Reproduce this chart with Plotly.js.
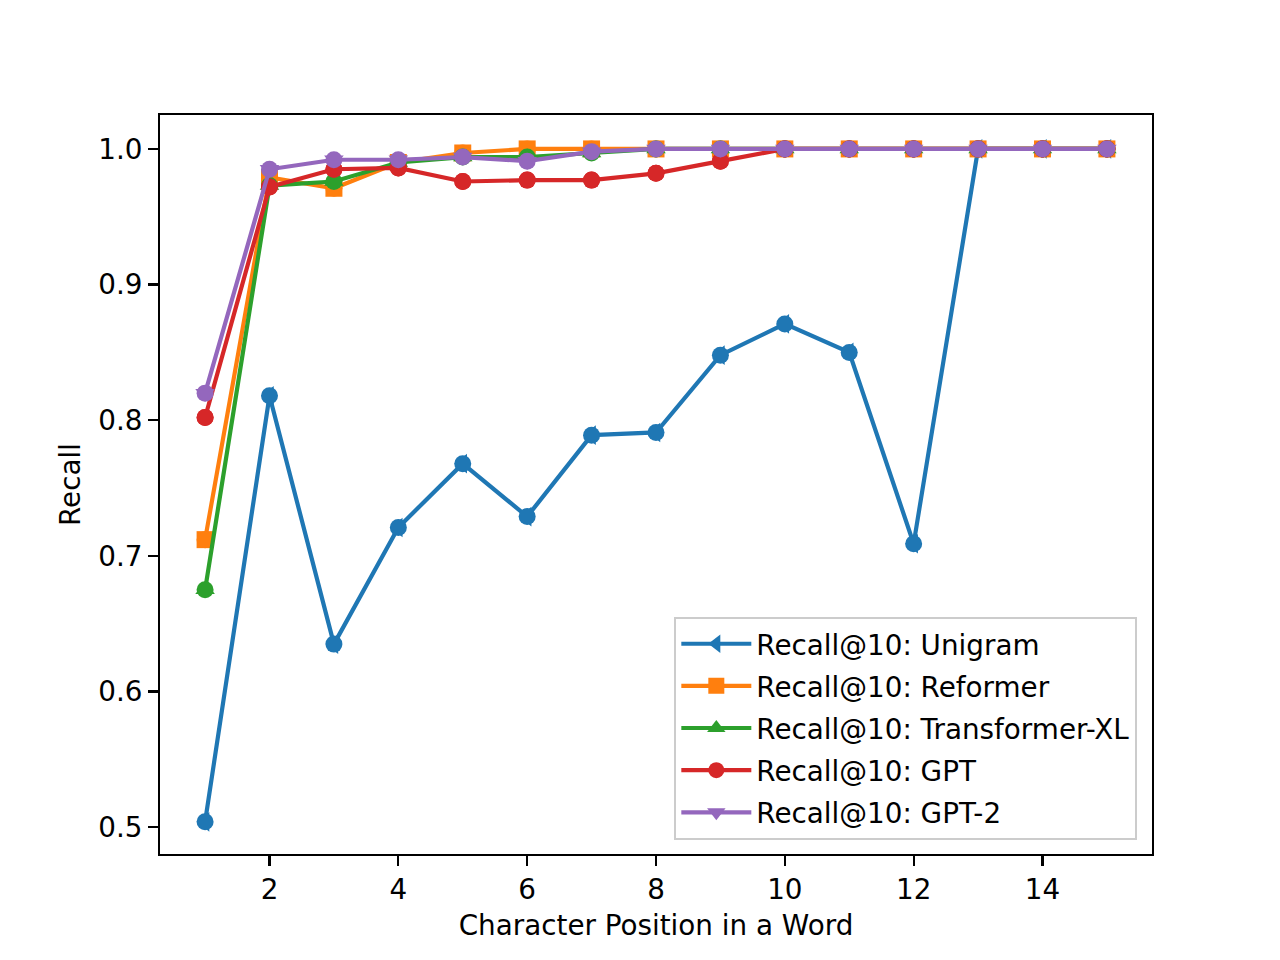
<!DOCTYPE html>
<html>
<head>
<meta charset="utf-8">
<script src="https://cdn.plot.ly/plotly-3.0.1.min.js"></script>
<style>html,body{margin:0;padding:0;background:#fff;}#chart{width:1280px;height:960px;}</style>
</head>
<body>
<div id="chart"></div>
<script>
const positions = [1,2,3,4,5,6,7,8,9,10,11,12,13,14,15];
const unigram = [0.504,0.818,0.635,0.721,0.768,0.729,0.789,0.791,0.848,0.871,0.850,0.709,1.0,1.0,1.0];
const reformer = [0.712,0.979,0.971,0.990,0.997,1.0,1.0,1.0,1.0,1.0,1.0,1.0,1.0,1.0,1.0];
const transformerXL = [0.675,0.973,0.976,0.990,0.994,0.994,0.997,1.0,1.0,1.0,1.0,1.0,1.0,1.0,1.0];
const gpt = [0.802,0.972,0.985,0.986,0.976,0.977,0.977,0.982,0.991,1.0,1.0,1.0,1.0,1.0,1.0];
const gpt2 = [0.820,0.985,0.992,0.992,0.994,0.991,0.998,1.0,1.0,1.0,1.0,1.0,1.0,1.0,1.0];
const seriesNames = ['Recall@10: Unigram','Recall@10: Reformer','Recall@10: Transformer-XL','Recall@10: GPT','Recall@10: GPT-2'];
const seriesValues = [unigram, reformer, transformerXL, gpt, gpt2];
const colors = ['#1f77b4','#ff7f0e','#2ca02c','#d62728','#9467bd'];
const symbols = ['triangle-left','square','triangle-up','circle','triangle-down'];
const xTicks = [2,4,6,8,10,12,14];
const yTicks = [0.5,0.6,0.7,0.8,0.9,1.0];

const traces = [];
seriesValues.forEach((vals, i) => {
  traces.push({
    x: positions, y: vals, type: 'scatter', mode: 'lines+markers',
    name: seriesNames[i], legendgroup: 'g' + i,
    line: {color: colors[i], width: 4.2},
    marker: {symbol: symbols[i], size: 17, color: colors[i]}
  });
  traces.push({
    x: positions, y: vals, type: 'scatter', mode: 'markers',
    showlegend: false, legendgroup: 'g' + i, hoverinfo: 'skip',
    marker: {symbol: 'circle', size: 17, color: colors[i]}
  });
});

const font = {family: 'DejaVu Sans, sans-serif', size: 27.8, color: '#000'};
const layout = {
  width: 1280, height: 960,
  margin: {l: 160, r: 128, t: 115, b: 106},
  paper_bgcolor: '#fff', plot_bgcolor: '#fff',
  font: font,
  showlegend: true,
  xaxis: {
    range: [0.3, 15.7], tickvals: xTicks, ticktext: xTicks.map(String),
    showgrid: false, zeroline: false,
    showline: true, mirror: true, linecolor: '#000', linewidth: 2.2,
    ticks: 'outside', ticklen: 9.7, tickwidth: 2.2, tickcolor: '#000',
    tickfont: font,
    title: {text: 'Character Position in a Word', font: font, standoff: 10}
  },
  yaxis: {
    range: [0.4803, 1.025], tickvals: yTicks, ticktext: yTicks.map(v => v.toFixed(1)),
    showgrid: false, zeroline: false,
    showline: true, mirror: true, linecolor: '#000', linewidth: 2.2,
    ticks: 'outside', ticklen: 9.7, tickwidth: 2.2, tickcolor: '#000',
    tickfont: font,
    title: {text: 'Recall', font: font, standoff: 10}
  },
  legend: {
    x: 0.985, y: 0.019, xanchor: 'right', yanchor: 'bottom',
    bgcolor: 'rgba(255,255,255,0.8)', bordercolor: '#cccccc', borderwidth: 2.2,
    font: font, tracegroupgap: 3, traceorder: 'grouped', itemwidth: 70
  }
};

Plotly.newPlot('chart', traces, layout, {staticPlot: true, displayModeBar: false});
</script>
</body>
</html>
